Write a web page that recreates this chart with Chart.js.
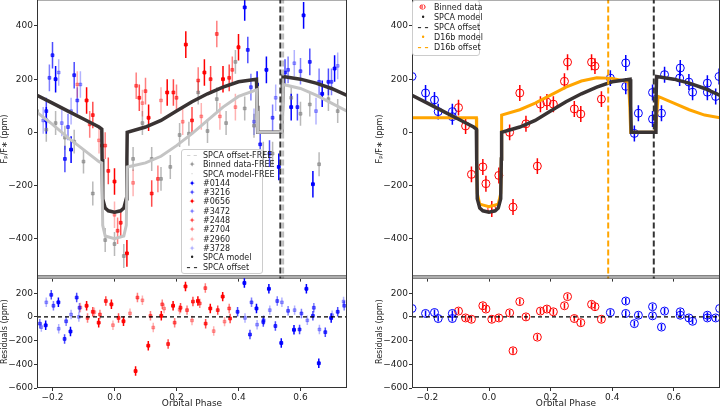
<!DOCTYPE html>
<html>
<head>
<meta charset="utf-8">
<script src="https://cdn.jsdelivr.net/npm/chart.js@4.4.0/dist/chart.umd.min.js"></script>
<style>
  body { margin: 0; background: #fff; font-family: "DejaVu Sans", sans-serif; }
  #wrap { position: relative; width: 725px; height: 409px; overflow: hidden; }
  .cv { position: absolute; }
  .legend { position: absolute; background: rgba(255,255,255,0.85); border: 1px solid #ccc; border-radius: 3px;
            font-size: 8px; line-height: 9.3px; padding: 1px 3px; color: #222; }
  .legend div { white-space: nowrap; }
  .legend span.m { display: inline-block; width: 14px; text-align: center; margin-right: 4px; }
</style>
</head>
<body>
<div id="wrap">
  <div class="cv" style="left:0;top:-7px;width:352px;height:292px"><canvas id="lt"></canvas></div>
  <div class="cv" style="left:0;top:269px;width:352px;height:140px"><canvas id="lb"></canvas></div>
  <div class="cv" style="left:375px;top:-7px;width:350px;height:292px"><canvas id="rt"></canvas></div>
  <div class="cv" style="left:375px;top:269px;width:350px;height:140px"><canvas id="rb"></canvas></div>
  <div class="legend" style="left:181px;top:149px;width:74px">
    <div><span class="m" style="color:#bbb">– –</span>SPCA offset-FREE</div>
    <div><span class="m" style="color:#999">✦</span>Binned data-FREE</div>
    <div><span class="m" style="color:#ccc">·</span>SPCA model-FREE</div>
    <div><span class="m" style="color:rgb(0,0,255)">✦</span>#0144</div>
    <div><span class="m" style="color:rgba(0,0,255,0.7)">✦</span>#3216</div>
    <div><span class="m" style="color:rgb(255,0,0)">✦</span>#0656</div>
    <div><span class="m" style="color:rgba(0,0,255,0.5)">✦</span>#3472</div>
    <div><span class="m" style="color:rgba(255,0,0,0.7)">✦</span>#2448</div>
    <div><span class="m" style="color:rgba(255,0,0,0.5)">✦</span>#2704</div>
    <div><span class="m" style="color:rgba(255,0,0,0.3)">✦</span>#2960</div>
    <div><span class="m" style="color:rgba(0,0,255,0.3)">✦</span>#3728</div>
    <div><span class="m" style="color:#222">•</span>SPCA model</div>
    <div><span class="m" style="color:#333;font-weight:bold">– –</span>SPCA offset</div>
  </div>
  <div class="legend" style="left:412px;top:0;width:60px;line-height:10px;padding:2px 3px">
    <div><span class="m" style="color:red">⦶</span>Binned data</div>
    <div><span class="m" style="color:#222">•</span>SPCA model</div>
    <div><span class="m" style="color:#333;font-weight:bold">– –</span>SPCA offset</div>
    <div><span class="m" style="color:orange">•</span>D16b model</div>
    <div><span class="m" style="color:orange;font-weight:bold">– –</span>D16b offset</div>
  </div>
</div>
<script>
// ---- models: [phase, ppm]
const spcaModel = [[-0.25,139],[-0.2,110],[-0.15,80],[-0.1,50],[-0.05,20],[-0.041,12],[-0.04,-100],[-0.038,-250],[-0.03,-285],[-0.02,-295],[0,-300],[0.02,-295],[0.03,-285],[0.038,-250],[0.04,-100],[0.041,0],[0.1,20],[0.15,45],[0.2,80],[0.25,115],[0.3,145],[0.35,170],[0.4,190],[0.458,200],[0.46,100],[0.462,0],[0.54,0],[0.542,100],[0.544,210],[0.6,200],[0.65,185],[0.7,165],[0.75,139]];
const freeModel = [[-0.25,75],[-0.2,30],[-0.15,-20],[-0.1,-65],[-0.05,-110],[-0.041,-115],[-0.038,-350],[-0.03,-390],[0,-400],[0.03,-390],[0.038,-350],[0.041,-130],[0.1,-115],[0.15,-90],[0.2,-50],[0.25,-5],[0.3,45],[0.35,95],[0.4,135],[0.458,160],[0.46,80],[0.462,0],[0.54,0],[0.542,90],[0.544,180],[0.6,165],[0.65,140],[0.7,110],[0.75,80]];
const d16bModel = [[-0.25,55],[-0.1,55],[-0.041,55],[-0.04,-100],[-0.038,-230],[-0.03,-270],[0,-280],[0.03,-270],[0.038,-230],[0.04,-100],[0.041,65],[0.1,85],[0.15,110],[0.2,140],[0.25,170],[0.3,193],[0.35,205],[0.4,203],[0.453,190],[0.457,100],[0.46,0],[0.54,0],[0.545,70],[0.549,135],[0.6,110],[0.65,85],[0.7,65],[0.75,55]];
const spcaOffset = 0.535, freeOffset = 0.544, d16bOffset = 0.387;

// ---- left panel binned data: [phase, ppm]
const v0144 = [[-0.22,45],[-0.19,200],[-0.14,-65],[0.42,470],[0.46,180],[0.49,235],[0.53,-130],[0.57,95],[0.61,440],[0.64,-195],[0.67,145],[0.71,240]];
const v3216 = [[-0.22,80],[-0.2,290],[-0.16,-100],[-0.13,215],[0.43,310],[0.47,-45],[0.5,-80],[0.55,225],[0.59,95],[0.63,265],[0.69,190]];
const v3472 = [[-0.21,205],[-0.15,20],[-0.12,120],[0.44,170],[0.51,55],[0.56,235],[0.6,230],[0.66,190],[0.7,190]];
const v3728 = [[-0.23,45],[-0.18,225],[-0.17,35],[-0.14,80],[-0.11,180],[0.45,40],[0.52,130],[0.58,260],[0.65,80],[0.72,250]];
const v0656 = [[-0.09,120],[-0.04,-50],[0,-185],[0.04,-455],[0.11,55],[0.17,150],[0.23,330],[0.29,225],[0.35,200],[0.4,320]];
const v2448 = [[-0.07,65],[-0.02,-145],[0.02,-340],[0.08,130],[0.12,-230],[0.19,150],[0.25,45],[0.31,200],[0.37,205]];
const v2704 = [[-0.08,30],[-0.03,-50],[0.01,-370],[0.07,175],[0.1,155],[0.14,-175],[0.2,130],[0.27,195],[0.33,370],[0.38,235]];
const v2960 = [[-0.12,180],[-0.05,-30],[0,-310],[0.06,-190],[0.09,110],[0.15,120],[0.22,40],[0.28,60],[0.34,60],[0.39,95]];
const vFree = [[-0.25,80],[-0.22,10],[-0.19,35],[-0.16,-20],[-0.13,-35],[-0.1,-110],[-0.07,-230],[-0.03,-405],[0,-420],[0.03,-465],[0.06,-100],[0.09,35],[0.12,-100],[0.15,-175],[0.18,-130],[0.21,-10],[0.24,-5],[0.27,150],[0.3,5],[0.33,125],[0.36,35],[0.39,265],[0.42,90],[0.45,25],[0.48,-80],[0.51,-80],[0.54,175],[0.57,130],[0.6,70],[0.63,105],[0.66,-120],[0.69,125],[0.72,80]];

// ---- left residuals
const r0144 = [[-0.222,-71],[-0.181,123],[-0.142,-123],[0.419,286],[0.458,71],[0.498,237],[0.538,-220],[0.579,-109],[0.619,237],[0.659,-391],[0.699,-9]];
const r3216 = [[-0.204,186],[-0.161,-186],[-0.122,163],[0.397,43],[0.437,-149],[0.48,-43],[0.519,-77],[0.597,-106],[0.64,9],[0.68,-129],[0.72,43]];
const r3472 = [[-0.241,-57],[-0.197,94],[-0.156,-37],[-0.113,77],[0.442,123],[0.481,-29],[0.525,134],[0.56,51],[0.603,29],[0.643,77],[0.741,94]];
const r3728 = [[-0.236,-86],[-0.22,123],[-0.18,-100],[-0.14,20],[-0.115,0],[0.421,-9],[0.46,-66],[0.501,57],[0.54,123],[0.581,57],[0.622,-29],[0.661,-106],[0.702,14],[0.739,129]];
const r0656 = [[-0.09,94],[-0.051,-49],[-0.01,106],[0.029,-37],[0.068,-457],[0.109,-243],[0.151,9],[0.189,94],[0.229,257],[0.269,134],[0.309,71],[0.349,171]];
const r2448 = [[-0.07,43],[-0.028,134],[0.013,-9],[0.173,-229],[0.213,77],[0.253,129],[0.294,-57],[0.333,57],[0.373,-14]];
const r2704 = [[-0.087,-9],[-0.047,20],[0.074,163],[0.116,9],[0.154,106],[0.194,-49],[0.234,57],[0.275,114],[0.293,243],[0.37,71]];
const r2960 = [[-0.11,80],[-0.065,40],[-0.005,-70],[0.05,30],[0.09,140],[0.125,-90],[0.16,70],[0.21,60],[0.25,-30],[0.32,-120],[0.355,-40]];

// ---- right panel binned data and residuals
const rtBlue = [[-0.25,210],[-0.206,148],[-0.177,122],[-0.165,78],[-0.119,78],[-0.119,59],[0.394,204],[0.444,173],[0.444,261],[0.472,-4],[0.485,72],[0.531,150],[0.531,50],[0.56,72],[0.57,217],[0.619,204],[0.621,242],[0.649,189],[0.661,151],[0.709,185],[0.709,151],[0.736,135],[0.747,210]];
const rtRed = [[-0.099,93],[-0.076,24],[-0.057,-158],[-0.02,-130],[-0.01,-193],[0.009,-288],[0.032,-162],[0.067,0],[0.078,-281],[0.1,148],[0.12,32],[0.157,-127],[0.167,106],[0.188,114],[0.209,106],[0.245,192],[0.255,264],[0.277,88],[0.298,69],[0.333,264],[0.344,249],[0.365,125]];
const rbBlue = [[-0.25,71],[-0.206,29],[-0.177,37],[-0.165,-14],[-0.119,29],[-0.119,-14],[0.394,37],[0.444,134],[0.444,29],[0.472,-57],[0.485,14],[0.531,86],[0.531,9],[0.56,-86],[0.57,49],[0.621,43],[0.621,14],[0.649,-9],[0.661,-37],[0.709,14],[0.709,-9],[0.736,-9],[0.749,71]];
const rbRed = [[-0.099,49],[-0.076,-9],[-0.057,-20],[-0.02,94],[-0.01,66],[0.009,-20],[0.032,-9],[0.067,34],[0.078,-286],[0.1,129],[0.12,0],[0.157,-171],[0.167,49],[0.188,66],[0.209,43],[0.245,94],[0.255,171],[0.277,-14],[0.298,-49],[0.333,106],[0.344,86],[0.365,-20]];

const xTicks = [-0.2, 0, 0.2, 0.4, 0.6];
const xy = a => a.map(p => ({x: p[0], y: p[1]}));
const blue = a => `rgba(0,0,255,${a})`, red = a => `rgba(255,0,0,${a})`;

// error bars + frame
const errPlugin = {
  id: 'errs',
  beforeDatasetsDraw(chart) {
    const ctx = chart.ctx, xs = chart.scales.x, ys = chart.scales.y;
    ctx.save();
    ctx.beginPath();
    ctx.rect(chart.chartArea.left, chart.chartArea.top, chart.chartArea.width, chart.chartArea.height);
    ctx.clip();
    chart.data.datasets.forEach(ds => {
      if (!ds.err) return;
      ctx.strokeStyle = ds.borderColor; ctx.lineWidth = 1.5;
      ds.data.forEach(p => {
        const px = xs.getPixelForValue(p.x);
        ctx.beginPath();
        ctx.moveTo(px, ys.getPixelForValue(p.y - ds.err));
        ctx.lineTo(px, ys.getPixelForValue(p.y + ds.err));
        ctx.stroke();
      });
    });
    ctx.restore();
  },
  afterDraw(chart) {
    const a = chart.chartArea, ctx = chart.ctx;
    ctx.save(); ctx.strokeStyle = '#333'; ctx.lineWidth = 1;
    ctx.strokeRect(a.left + 0.5, a.top + 0.5, a.width - 1, a.height - 1);
    ctx.restore();
  }
};

function dots(label, data, color, err, style) {
  return Object.assign({ label, data: xy(data), borderColor: color, backgroundColor: color, err,
    pointRadius: 2, pointStyle: 'rect', showLine: false, order: 2 }, style || {});
}
function line(label, data, color, width, dash) {
  return { label, data: xy(data), borderColor: color, backgroundColor: color, borderWidth: width,
    borderDash: dash || [], pointRadius: 0, showLine: true, tension: 0, order: 1 };
}
function vline(x, color, dash) {
  return line('off', [[x, -700], [x, 700]], color, 2, dash);
}

function makeChart(id, datasets, ymin, ymax, yTicks, yTitle, bottom) {
  Chart.defaults.font.family = 'DejaVu Sans';
  return new Chart(document.getElementById(id), {
    type: 'scatter',
    data: { datasets },
    plugins: [errPlugin],
    options: {
      responsive: true, maintainAspectRatio: false, animation: false,
      layout: { padding: { top: 0, right: id[0] === 'l' ? 3 : 0, left: 0, bottom: 0 } },
      plugins: { legend: { display: false }, tooltip: { enabled: false } },
      scales: {
        x: {
          min: -0.25, max: 0.75, display: true,
          grid: { display: true, drawOnChartArea: false, tickLength: 3, color: '#333' },
          border: { display: false },
          ticks: { display: bottom, autoSkip: false, font: { size: 9 }, color: '#222', padding: 1,
            callback: v => v.toFixed(1).replace('-', '\u2212') },
          afterBuildTicks: s => { s.ticks = xTicks.map(v => ({ value: v })); },
          title: { display: bottom, text: 'Orbital Phase', font: { size: 9 }, color: '#222', padding: 0 },
          afterFit: s => { s.height = bottom ? 21 : 3; }
        },
        y: {
          min: ymin, max: ymax,
          grid: { display: true, drawOnChartArea: false, tickLength: 3, color: '#333' },
          border: { display: false },
          ticks: { autoSkip: false, font: { size: 9 }, color: '#222', padding: 1,
            callback: v => String(v).replace('-', '\u2212') },
          afterBuildTicks: s => { s.ticks = yTicks.map(v => ({ value: v })); },
          title: { display: true, text: yTitle, font: { size: 8 }, color: '#222', padding: 0 },
          afterFit: s => { s.width = 37; }
        }
      }
    }
  });
}

const topTicks = [-400, -200, 0, 200, 400], resTicks = [-600, -400, -200, 0, 200];
const yTop = 'F\u209A/F\u2217 (ppm)', yRes = 'Residuals (ppm)';

makeChart('lt', [
  vline(freeOffset, '#bbb', [6, 3]),
  vline(spcaOffset, '#333', [6, 3]),
  line('SPCA model-FREE', freeModel, '#c4c4c4', 3),
  line('SPCA model', spcaModel, '#393333', 3.5),
  dots('Binned data-FREE', vFree, 'rgba(128,128,128,0.55)', 45),
  dots('#0144', v0144, blue(1), 50), dots('#3216', v3216, blue(0.7), 50),
  dots('#0656', v0656, red(1), 50), dots('#3472', v3472, blue(0.5), 50),
  dots('#2448', v2448, red(0.7), 50), dots('#2704', v2704, red(0.5), 50),
  dots('#2960', v2960, red(0.3), 50), dots('#3728', v3728, blue(0.3), 50)
], -550, 500, topTicks, yTop, false);

makeChart('lb', [
  line('zero', [[-0.25, 0], [0.75, 0]], '#000', 1.2, [4, 3]),
  dots('#0144', r0144, blue(1), 40), dots('#3216', r3216, blue(0.7), 40),
  dots('#0656', r0656, red(1), 40), dots('#3472', r3472, blue(0.5), 40),
  dots('#2448', r2448, red(0.7), 40), dots('#2704', r2704, red(0.5), 40),
  dots('#2960', r2960, red(0.3), 40), dots('#3728', r3728, blue(0.3), 40)
], -600, 350, resTicks, yRes, true);

const ring = { pointStyle: 'circle', pointRadius: 4, borderWidth: 1, backgroundColor: 'rgba(0,0,0,0)' };
makeChart('rt', [
  vline(d16bOffset, 'orange', [6, 3]),
  vline(spcaOffset, '#333', [6, 3]),
  line('SPCA model', spcaModel, '#393333', 3.5),
  line('D16b model', d16bModel, 'orange', 3),
  dots('blue', rtBlue, 'blue', 30, ring),
  dots('red', rtRed, 'red', 30, ring)
], -550, 500, topTicks, yTop, false);

makeChart('rb', [
  line('zero', [[-0.25, 0], [0.75, 0]], '#000', 1.2, [4, 3]),
  dots('blue', rbBlue, 'blue', 25, ring),
  dots('red', rbRed, 'red', 25, ring)
], -600, 350, resTicks, yRes, true);
</script>
</body>
</html>
